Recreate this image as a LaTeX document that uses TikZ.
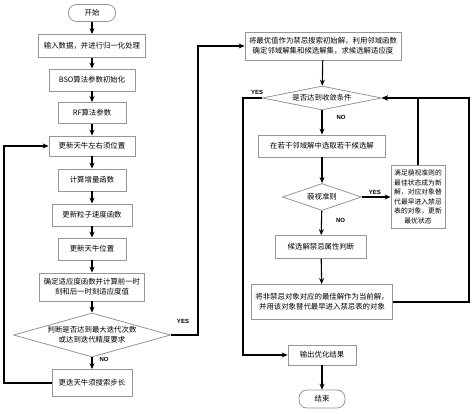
\documentclass[tikz,border=0pt]{standalone}
\usepackage{fontspec}
\setmainfont{Noto Sans CJK SC}
\newfontfamily\lblfont{Liberation Sans}
\usetikzlibrary{arrows.meta,shapes.geometric}
\definecolor{boxgray}{RGB}{150,150,150}

\begin{document}
\begin{tikzpicture}[x=1pt,y=-1pt,>={Stealth[length=6pt,width=5pt]},
  every node/.style={font=\fontsize{7.4}{10}\selectfont,inner sep=1pt},
  proc/.style={draw=boxgray,line width=0.8pt,fill=white,align=center},
  term/.style={proc,rounded corners=8pt},
  test/.style={diamond,draw=boxgray,line width=0.8pt,align=center,inner sep=0pt},
  flow/.style={line width=1.1pt,->},
  lbl/.style={font=\lblfont\fontsize{6}{7}\selectfont\bfseries}]
  \useasboundingbox (0,0) rectangle (474,414);
  \node[term,minimum width=47,minimum height=17] (start) at (92,13) {开始};
  \node[proc,minimum width=107,minimum height=23] (input) at (92,46) {输入数据，并进行归一化处理};
  \node[proc,minimum width=86,minimum height=22] (bso) at (92,80) {BSO算法参数初始化};
  \node[proc,minimum width=68,minimum height=21] (rf) at (92,113) {RF算法参数};
  \node[proc,minimum width=86,minimum height=20] (antenna) at (92,146) {更新天牛左右须位置};
  \node[proc,minimum width=68,minimum height=22] (incr) at (92,180) {计算增量函数};
  \node[proc,minimum width=80,minimum height=22] (speed) at (92,215) {更新粒子速度函数};
  \node[proc,minimum width=68,minimum height=22] (beetle) at (92,249) {更新天牛位置};
  \node[proc,minimum width=105,minimum height=28] (fitness) at (92,287) {确定适应度函数并计算前一时\\刻和后一时刻适应度值};
  \node[test,aspect=3.6,minimum width=157,minimum height=44] (iter) at (92,335) {判断是否达到最大迭代次数\\或达到迭代精度要求};
  \node[proc,minimum width=80,minimum height=27] (stepsize) at (92,383) {更迭天牛须搜索步长};

  \node[proc,minimum width=156,minimum height=28] (tabu) at (323,46) {将最优值作为禁忌搜索初始解，利用邻域函数\\确定邻域解集和候选解集，求候选解适应度};
  \node[test,aspect=5,minimum width=119,minimum height=24] (conv) at (322,98) {是否达到收敛条件};
  \node[proc,minimum width=127,minimum height=22] (cand) at (322,146) {在若干邻域解中选取若干候选解};
  \node[test,aspect=3,minimum width=79,minimum height=27] (aspire) at (322,197) {藐视准则};
  \node[proc,minimum width=54,minimum height=63,font=\fontsize{6.8}{9.6}\selectfont] (best) at (418,197) {满足藐视准则的\\最佳状态成为新\\解，对应对象替\\代最早进入禁忌\\表的对象，更新\\最优状态};
  \node[proc,minimum width=91,minimum height=23] (attr) at (321,247) {候选解禁忌属性判断};
  \node[proc,minimum width=141,minimum height=35] (current) at (322,302) {将非禁忌对象对应的最佳解作为当前解，\\并用该对象替代最早进入禁忌表的对象};
  \node[proc,minimum width=68,minimum height=20] (output) at (322,355) {输出优化结果};
  \node[term,minimum width=46,minimum height=18] (stop) at (322,399) {结束};

  \draw[flow] (start) -- (input);
  \draw[flow] (input) -- (bso);
  \draw[flow] (bso) -- (rf);
  \draw[flow] (rf) -- (antenna);
  \draw[flow] (antenna) -- (incr);
  \draw[flow] (incr) -- (speed);
  \draw[flow] (speed) -- (beetle);
  \draw[flow] (beetle) -- (fitness);
  \draw[flow] (fitness) -- (iter);
  \draw[flow] (iter) -- node[lbl,right=6pt,pos=0.15] {NO} (stepsize);
  \draw[flow] (stepsize.west) -- (4,383) |- (antenna.west);
  \draw[flow] (iter.east) -- (198,335) |- (tabu.west);
  \node[lbl] at (183,321) {YES};

  \draw[flow] (tabu) -- (conv);
  \draw[flow] (conv) -- node[lbl,right=13pt,pos=0.3] {NO} (cand);
  \draw[flow] (cand) -- (aspire);
  \draw[flow] (aspire) -- node[lbl,right=13pt,pos=0.4] {NO} (attr);
  \draw[flow] (aspire) -- node[lbl,above=1pt,pos=0.45] {YES} (best);
  \draw[flow] (attr) -- (current);
  \draw[flow] (best.north) |- (conv.east);
  \draw[flow] (current.east) -- (469,302) |- (conv.east);
  \draw[flow] (conv.west) -- (243,98) |- (output.west);
  \node[lbl] at (257,92) {YES};
  \draw[flow] (output) -- (stop);
\end{tikzpicture}
\end{document}
